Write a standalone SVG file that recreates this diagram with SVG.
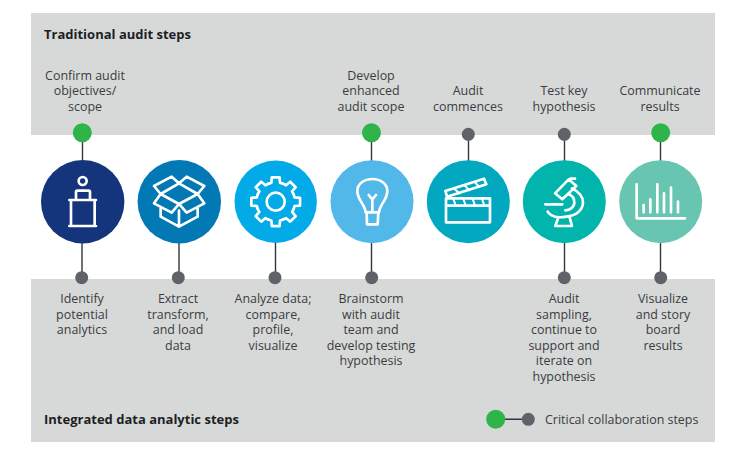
<svg xmlns="http://www.w3.org/2000/svg" xmlns:xlink="http://www.w3.org/1999/xlink" width="746" height="449" viewBox="0 0 746 449">
<style>
.band{fill:#d7d9d8}
.t{font-family:"Open Sans","Liberation Sans",sans-serif;font-size:12.45px;fill:#3a3c42;text-anchor:middle}
.h{font-family:"Open Sans","Liberation Sans",sans-serif;font-size:13px;font-weight:700;fill:#1d1f24}
.g{fill:#2fb44a}
.d{fill:#5f6369}
.c{stroke:#33363c;stroke-width:1.4;fill:none}
.i{fill:none;stroke:#fff;stroke-width:8;stroke-linecap:round;stroke-linejoin:round}
</style>
<defs>
<path id="tooth" d="M-22.2-53.6Q-18-55.5-13-56.5L-11.6-73.1H11.6L13-56.5Q18-55.5 22.2-53.6"/>
</defs>
<rect class="band" x="31" y="13" width="684" height="122"/>
<rect class="band" x="31" y="279" width="684" height="163"/>
<text class="h" x="44" y="39">Traditional audit steps</text>
<text class="h" x="44" y="424">Integrated data analytic steps</text>
<g id="connectors">
<path class="c" d="M82.5 132V202M179 202V278M275.5 202V278M82 202V278M371.5 132V278M468.5 134V202M564.5 134V278M660.5 132V278M496 419.3H528"/>
</g>
<g id="step1">
<circle class="g" cx="82.3" cy="132.7" r="9.5"/><circle class="d" cx="81.7" cy="277.7" r="6.5"/>
<circle cx="82.7" cy="201.7" r="41.7" fill="#14347c"/>
<g class="i" transform="translate(30 120) scale(.3333)">
<circle cx="158" cy="183" r="12"/>
<path d="M138 238V216Q138 212 142 212H176Q180 212 180 216V238M118 240H198M123 240V318H194V240M118 318H198"/>
</g>
<text class="t" x="85" y="79.5">Confirm audit</text><text class="t" x="85" y="95">objectives/</text><text class="t" x="85" y="110.5">scope</text>
<text class="t" x="82" y="303">Identify</text><text class="t" x="82" y="318.5">potential</text><text class="t" x="82" y="334">analytics</text>
</g>
<g id="step2">
<circle class="d" cx="178.3" cy="277.7" r="6.5"/>
<circle cx="179.3" cy="201.7" r="41.7" fill="#0278b4"/>
<g class="i" transform="translate(30 120) scale(.3333)">
<path d="M392 264V290L447 320L503 290V264M447 320V272M392 222L447 190L503 222L447 252ZM392 222L372 198L425 170L447 190L470 170L523 198L503 222M392 222L372 250L425 278L447 252L470 278L523 250L503 222"/>
</g>
<text class="t" x="178" y="303">Extract</text><text class="t" x="178" y="318.5">transform,</text><text class="t" x="178" y="334">and load</text><text class="t" x="178" y="349.5">data</text>
</g>
<g id="step3">
<circle class="d" cx="275" cy="277.7" r="6.5"/>
<circle cx="275.7" cy="201.7" r="41.2" fill="#02abe8"/>
<g class="i" transform="translate(275.7 201.7) scale(.3333)">
<circle r="27"/>
<use xlink:href="#tooth"/><use xlink:href="#tooth" transform="rotate(45)"/><use xlink:href="#tooth" transform="rotate(90)"/><use xlink:href="#tooth" transform="rotate(135)"/><use xlink:href="#tooth" transform="rotate(180)"/><use xlink:href="#tooth" transform="rotate(225)"/><use xlink:href="#tooth" transform="rotate(270)"/><use xlink:href="#tooth" transform="rotate(315)"/>
</g>
<text class="t" x="273" y="303">Analyze data;</text><text class="t" x="273" y="318.5">compare,</text><text class="t" x="273" y="334">profile,</text><text class="t" x="273" y="349.5">visualize</text>
</g>
<g id="step4">
<circle class="g" cx="371.5" cy="132.7" r="9.5"/><circle class="d" cx="371.7" cy="277.7" r="6.5"/>
<circle cx="372" cy="201.7" r="41.5" fill="#52b8ea"/>
<g class="i" transform="translate(335 165) scale(.3333)">
<path d="M92 142C90 118 67 105 67 78C67 56 88 42 112 42C136 42 157 56 157 78C157 105 134 118 132 142ZM95 142L96 178H128L130 142M112 142V100M101 90L112 103L123 90"/>
</g>
<text class="t" x="371" y="79.5">Develop</text><text class="t" x="371" y="95">enhanced</text><text class="t" x="371" y="110.5">audit scope</text>
<text class="t" x="371" y="303">Brainstorm</text><text class="t" x="371" y="318.5">with audit</text><text class="t" x="371" y="334">team and</text><text class="t" x="371" y="349.5">develop testing</text><text class="t" x="371" y="365">hypothesis</text>
</g>
<g id="step5">
<circle class="d" cx="468.3" cy="134.3" r="6.5"/>
<circle cx="468.3" cy="201.7" r="41.5" fill="#01a8bf"/>
<g class="i" transform="translate(430 165) scale(.3333)">
<path d="M48 100H180V172H48ZM48 122H180M46 78L162 41L169 58L51 95Z"/>
<path d="M70 102L76 118M100 102L106 118M128 102L134 118M156 102L162 118M73 71L88 85M104 61L118 76M134 51L148 66" stroke-width="6"/>
</g>
<text class="t" x="468" y="94.5">Audit</text><text class="t" x="468" y="110.5">commences</text>
</g>
<g id="step6">
<circle class="d" cx="564.3" cy="134.3" r="6.5"/><circle class="d" cx="564.3" cy="277.7" r="6.5"/>
<circle cx="564.3" cy="201.7" r="41.5" fill="#01b5ad"/>
<g class="i" transform="translate(527 165) scale(.3333)">
<path d="M84 85L125 43L148 63L106 103ZM130 41H144M135 70C155 80 168 92 168 112C168 135 148 152 118 155M125 88C138 93 142 102 142 112C142 126 130 136 115 136M55 118H106M62 140C72 155 88 160 118 155M93 160L85 183H135L128 157"/>
</g>
<text class="t" x="564" y="94.5">Test key</text><text class="t" x="564" y="110.5">hypothesis</text>
<text class="t" x="564" y="303">Audit</text><text class="t" x="564" y="318.5">sampling,</text><text class="t" x="564" y="334">continue to</text><text class="t" x="564" y="349.5">support and</text><text class="t" x="564" y="365">iterate on</text><text class="t" x="564" y="380.5">hypothesis</text>
</g>
<g id="step7">
<circle class="g" cx="660.7" cy="132.7" r="9.5"/><circle class="d" cx="660.7" cy="277.7" r="6.5"/>
<circle cx="660.7" cy="201.7" r="41.5" fill="#67c5b2"/>
<g class="i" transform="translate(623 165) scale(.3333)">
<path d="M41 58V160H186M62 120V142M82 103V142M103 58V142M123 85V142M144 68V142M165 110V142"/>
</g>
<text class="t" x="660" y="94.5">Communicate</text><text class="t" x="660" y="110.5">results</text>
<text class="t" x="663" y="303">Visualize</text><text class="t" x="663" y="318.5">and story</text><text class="t" x="663" y="334">board</text><text class="t" x="663" y="349.5">results</text>
</g>
<g id="legend">
<circle class="g" cx="495.7" cy="419.3" r="9.5"/><circle class="d" cx="528.3" cy="419.3" r="6.5"/>
<text class="t" x="545" y="424" style="text-anchor:start">Critical collaboration steps</text>
</g>
</svg>
